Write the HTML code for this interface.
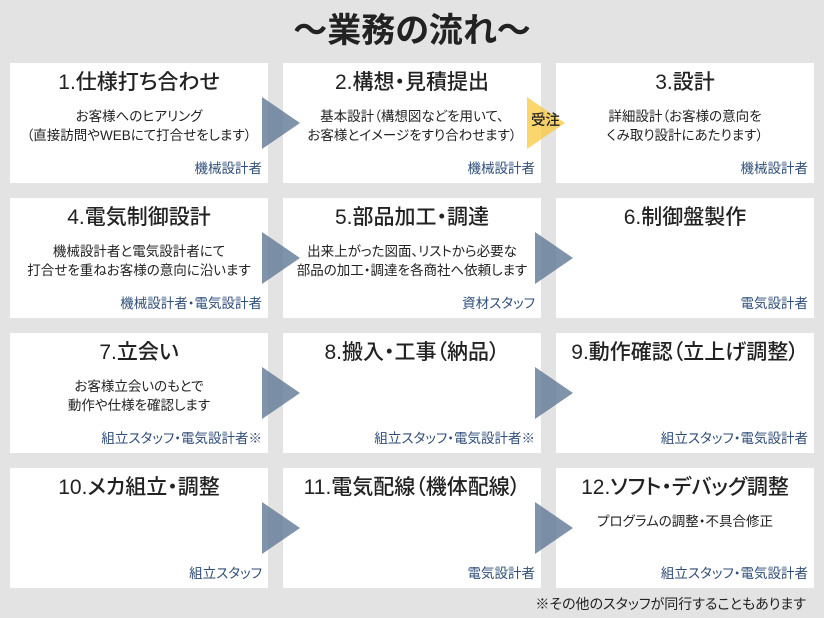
<!DOCTYPE html>
<html><head><meta charset="utf-8"><style>
*{margin:0;padding:0;box-sizing:border-box}
body{width:824px;height:618px;background:#e3e3e3;position:relative;overflow:hidden;font-family:"Liberation Sans","Noto Sans CJK JP",sans-serif;color:#222;font-feature-settings:"palt"}
.h{position:absolute;left:0;width:824px;top:6px;text-align:center;font-size:34px;font-weight:bold;line-height:50px;color:#222}
.b{position:absolute;width:258px;height:120px;background:#fff}
.t{position:absolute;left:0;right:0;top:6px;text-align:center;font-size:21px;font-weight:500;line-height:28px}
.d{position:absolute;left:-4px;right:-4px;top:44px;text-align:center;font-size:13.5px;line-height:19px}
.r{position:absolute;right:6px;bottom:6px;font-size:13.5px;color:#2f4e78;line-height:17px}
.a{position:absolute;width:0;height:0;border-top:26px solid transparent;border-bottom:26px solid transparent;border-left:38px solid rgba(95,120,150,0.8)}
.y{border-left-color:rgba(250,200,60,0.75)}
.ju{position:absolute;left:531px;top:112px;font-size:14.5px;line-height:18px;font-weight:500}
.n{position:absolute;right:18px;top:595px;font-size:14px;line-height:18px}
</style></head><body>
<div class="h">〜業務の流れ〜</div>

<div class="b" style="left:10px;top:63px"><div class="t">1.仕様打ち合わせ</div><div class="d">お客様へのヒアリング<br>（直接訪問やWEBにて打合せをします）</div><div class="r">機械設計者</div></div>
<div class="b" style="left:283px;top:63px"><div class="t">2.構想・見積提出</div><div class="d">基本設計（構想図などを用いて、<br>お客様とイメージをすり合わせます）</div><div class="r">機械設計者</div></div>
<div class="b" style="left:556px;top:63px"><div class="t">3.設計</div><div class="d">詳細設計（お客様の意向を<br>くみ取り設計にあたります）</div><div class="r">機械設計者</div></div>

<div class="b" style="left:10px;top:198px"><div class="t">4.電気制御設計</div><div class="d">機械設計者と電気設計者にて<br>打合せを重ねお客様の意向に沿います</div><div class="r">機械設計者・電気設計者</div></div>
<div class="b" style="left:283px;top:198px"><div class="t">5.部品加工・調達</div><div class="d">出来上がった図面、リストから必要な<br>部品の加工・調達を各商社へ依頼します</div><div class="r">資材スタッフ</div></div>
<div class="b" style="left:556px;top:198px"><div class="t">6.制御盤製作</div><div class="r">電気設計者</div></div>

<div class="b" style="left:10px;top:333px"><div class="t">7.立会い</div><div class="d">お客様立会いのもとで<br>動作や仕様を確認します</div><div class="r">組立スタッフ・電気設計者※</div></div>
<div class="b" style="left:283px;top:333px"><div class="t">8.搬入・工事（納品）</div><div class="r">組立スタッフ・電気設計者※</div></div>
<div class="b" style="left:556px;top:333px"><div class="t">9.動作確認（立上げ調整）</div><div class="r">組立スタッフ・電気設計者</div></div>

<div class="b" style="left:10px;top:468px"><div class="t">10.メカ組立・調整</div><div class="r">組立スタッフ</div></div>
<div class="b" style="left:283px;top:468px"><div class="t">11.電気配線（機体配線）</div><div class="r">電気設計者</div></div>
<div class="b" style="left:556px;top:468px"><div class="t">12.ソフト・デバッグ調整</div><div class="d">プログラムの調整・不具合修正</div><div class="r">組立スタッフ・電気設計者</div></div>

<div class="a" style="left:262px;top:97px"></div>
<div class="a y" style="left:527px;top:97px"></div>
<div class="ju">受注</div>
<div class="a" style="left:262px;top:232px"></div>
<div class="a" style="left:535px;top:232px"></div>
<div class="a" style="left:262px;top:367px"></div>
<div class="a" style="left:535px;top:367px"></div>
<div class="a" style="left:262px;top:502px"></div>
<div class="a" style="left:535px;top:502px"></div>

<div class="n">※その他のスタッフが同行することもあります</div>
</body></html>
